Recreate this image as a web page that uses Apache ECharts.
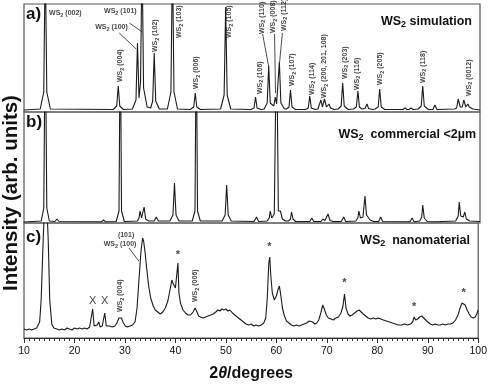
<!DOCTYPE html>
<html><head><meta charset="utf-8">
<script src="https://cdn.jsdelivr.net/npm/echarts@6/dist/echarts.min.js"></script>
<style>html,body{margin:0;padding:0;background:#fff}#c{width:490px;height:384px}</style>
</head><body><div id="c"></div>
<script>
// ---- data (2theta in degrees, intensity in arbitrary units per panel) ----
const xTicks = [10, 20, 30, 40, 50, 60, 70, 80, 90, 100];

const simPattern = [
[10,2],[13.2,3],[13.9,20],[14.2,160],[14.5,20],[15.2,3],
[27.6,2.5],[28.3,6],[28.6,26],[28.9,6],[29.6,2.5],
[31.4,3],[32.1,12],[32.4,69],[32.7,14],[33.0,30],[33.3,160],[33.6,24],[34.3,5],
[35.0,4],[35.4,11],[35.7,59],[36.0,11],[36.7,3],
[38.3,3],[39.0,20],[39.3,160],[39.6,20],[40.3,3],
[42.8,2.5],[43.5,5],[43.8,19],[44.1,5],[44.8,2.5],
[48.8,3],[49.5,17],[49.8,105],[50.1,17],[50.8,3],
[54.8,2.5],[55.4,4],[55.7,15],[56.0,4],[56.8,2.5],
[57.4,3],[58.0,9],[58.3,46],[58.6,9],[59.3,6],[59.6,15],[59.85,8],[60.1,10],[60.4,50],[60.7,9],[61.4,3],
[61.8,3],[62.3,5],[62.6,22],[62.9,5],[63.6,2.5],
[65.6,2.5],[66.1,4],[66.4,16],[66.7,4],[67.5,2.5],
[68.0,3],[68.3,4],[68.6,12],[68.9,5],[69.3,13],[69.7,5],[70.2,8],[70.5,4],[71.2,2.5],
[72.0,3],[72.6,6],[72.9,29],[73.2,6],[74.0,2.5],
[75.0,3],[75.6,5],[75.9,21],[76.2,5],[76.7,3],[77.0,5],[77.3,3.5],[77.7,8],[78.0,3.5],[78.8,2.5],
[79.3,3],[79.9,5],[80.2,23],[80.5,5],[81.2,2.5],
[84.8,2.5],[85.2,4],[85.6,2.5],[86.0,2.5],[86.4,4],[86.8,2.5],
[87.8,3],[88.4,6],[88.7,26],[89.0,6],[89.8,2.5],
[90.7,2.5],[91.1,7],[91.5,2.5],
[95.0,3],[95.4,4],[95.7,13],[96.1,5],[96.5,5],[96.8,12],[97.2,5],[97.6,8],[97.9,5],[98.2,7],[98.6,3],[100,2]
];

const comPattern = [
[10,1],[13.4,2],[13.9,15],[14.2,200],[14.5,15],[15.0,2],[16.1,1.5],[16.5,4],[16.9,1.5],
[25.3,1.2],[25.7,3],[26.1,1.2],
[28.2,1.5],[28.75,12],[29.0,200],[29.25,12],[29.8,1.5],
[32.4,2],[32.7,5],[32.9,12],[33.2,5],[33.5,7],[33.7,16],[34.0,4],[34.6,2],
[35.7,2],[36.1,6],[36.5,2],
[38.8,2],[39.4,8],[39.7,40],[40.0,8],[40.6,2],
[43.2,2],[43.75,12],[44.0,200],[44.25,12],[44.8,2],
[49.1,2],[49.7,8],[50.0,38],[50.3,8],[50.9,2],
[55.4,1.5],[55.9,6],[56.3,1.5],
[58.0,2],[58.4,5],[58.6,12],[58.9,5],[59.4,9],[59.85,200],[60.2,12],[60.6,12],[61.0,4],[61.6,2],
[62.2,2],[62.6,4],[62.8,11],[63.1,4],[63.6,1.5],
[66.4,1.5],[66.8,5],[67.2,1.5],
[68.6,1.5],[69.0,4],[69.4,2.5],[70.0,9],[70.4,2.5],[71.0,1.5],
[72.6,1.5],[73.1,6],[73.5,1.5],
[75.5,2],[75.9,5],[76.1,12],[76.4,5],[76.9,6],[77.3,27],[77.6,8],[77.9,10],[78.3,3],[79.0,1.5],
[80.0,1.5],[80.4,6],[80.8,1.5],
[86.2,1.2],[86.6,5],[87.0,1.2],
[88.1,2],[88.5,6],[88.7,18],[89.0,5],[89.6,1.5],
[90.8,1.2],[91.1,3],[91.4,1.2],
[95.2,2],[95.7,7],[95.9,21],[96.2,7],[96.7,6],[97.0,11],[97.3,4],[98.0,2],[100,1.5]
];

const nanoPattern = [
[10,9],[10.5,8],[11,9],[11.5,8],[12,9],[12.5,10],[12.8,11],[13.1,16],[13.4,38],[13.8,98],[14.3,160],[14.8,98],[15.1,38],[15.5,14],[15.9,10],
[16.5,9],[17,8],[17.5,9],[18,8],[18.5,10],[19,9],[19.5,8],[20,10],[20.5,9],[21,10],[21.5,9],[22,10],[22.5,9],[23,11],
[23.3,13],[23.6,29],[23.9,12],[24.2,11],[24.5,13],[24.8,16],[25.1,11],[25.5,12],[25.8,11],[26.0,25],[26.3,12],[26.6,10],
[27,12],[27.5,11],[28,12],[28.4,15],[28.8,20],[29.0,22],[29.3,20],[29.7,15],[30.1,12],[30.5,11],[31,12],[31.5,13],[32,16],
[32.4,30],[32.8,60],[33.2,88],[33.5,100],[33.7,97],[34.0,85],[34.3,70],[34.7,52],[35.1,40],[35.6,32],[36.0,28],[36.5,26],
[37.0,24],[37.5,26],[38.0,30],[38.5,37],[39.0,50],[39.3,58],[39.5,55],[39.7,57],[40.0,50],[40.3,48],[40.5,75],[40.7,45],
[41.0,35],[41.5,28],[42.0,25],[42.5,23],[43.0,23],[43.5,26],[43.9,30],[44.2,27],[44.6,22],[45.0,21],[45.5,20],[46.0,21],
[46.5,22],[47.0,23],[47.5,24],[48.0,26],[48.4,28],[48.8,27],[49.2,29],[49.6,28],[50.0,29],[50.4,27],[50.8,28],[51.3,25],
[52,22],[52.5,20],[53,18],[53.5,16],[54,14],[54.5,13],[55,14],[55.5,12],[56,13],[56.5,12],[57,13],[57.5,15],[57.9,20],
[58.2,40],[58.5,75],[58.7,81],[58.9,62],[59.2,45],[59.6,38],[60.0,42],[60.3,48],[60.6,52],[60.9,42],[61.2,30],[61.6,22],
[62.0,17],[62.5,15],[63,13],[63.5,12],[64,13],[64.5,12],[65,13],[65.5,14],[66,15],[66.5,17],[66.8,18],[67.2,16],[67.6,14],
[68,15],[68.4,18],[68.8,25],[69.2,33],[69.5,29],[69.9,23],[70.3,20],[70.8,19],[71.3,18],[71.8,20],[72.3,21],[72.8,25],
[73.2,32],[73.5,44],[73.8,30],[74.2,24],[74.6,22],[75.0,23],[75.5,25],[76.0,27],[76.4,28],[76.8,26],[77.2,24],[77.7,22],
[78.2,20],[78.7,19],[79.2,20],[79.7,19],[80.2,20],[80.7,19],[81.2,18],[81.8,17],[82.4,16],[83,15],[83.6,14],[84.2,13],
[84.8,13],[85.4,14],[86,13],[86.6,14],[87.0,16],[87.3,21],[87.6,18],[88.0,19],[88.4,21],[88.8,22],[89.2,20],[89.6,18],
[90.0,16],[90.5,14],[91,13],[91.5,14],[92,13],[92.5,13],[93,14],[93.5,13],[94,14],[94.5,14],[95,15],[95.5,18],[96,23],
[96.4,30],[96.8,35],[97.1,36],[97.4,33],[97.8,28],[98.2,24],[98.6,21],[99,20],[99.4,21],[99.7,24],[100,28]
];

// peak labels: [2theta, intensity, text]
const simVertLabels = [
[29.0,30,'WS₂ (004)'],[35.9,60,'WS₂ (102)'],[40.66,74,'WS₂ (103)'],[44.0,23,'WS₂ (006)'],
[50.55,74,'WS₂ (105)'],[56.5,18,'WS₂ (106)'],[56.9,78,'WS₂ (110)'],[59.2,79,'WS₂ (008)'],
[61.3,81,'WS₂ (112)'],[63.0,26,'WS₂ (107)'],[66.8,17,'WS₂ (114)'],[69.3,14,'WS₂ (200, 201, 108)'],
[73.3,33,'WS₂ (203)'],[75.7,22,'WS₂ (116)'],[80.3,27,'WS₂ (205)'],[88.7,29,'WS₂ (118)'],[97.8,16,'WS₂ (0012)']
];
const simHorizLabels = [[14.95,99,'WS₂ (002)'],[25.8,101,'WS₂ (101)'],[24.05,85,'WS₂ (100)']];
const simLeaders = [
[[30.8,89],[33.35,80]],[[28.8,79],[32.15,63]],
[[57.1,78],[58.3,45]],[[59.45,78],[59.65,19]],[[61.0,79],[60.45,50]]
];
const nanoVertLabels = [[29.1,26,'WS₂ (004)'],[43.9,36,'WS₂ (006)']];
const nanoHorizLabels = [[28.6,103,'(101)'],[25.8,94,'WS₂ (100)']];
const nanoLeaders = [[[30.8,90],[32.75,77]]];
const nanoStars = [[40.5,83,'*'],[58.6,91,'*'],[73.5,55,'*'],[87.3,31,'*'],[97.1,45,'*']];
const nanoCrosses = [[23.6,37,'X'],[26.0,37,'X']];

const panelTitles = ['WS₂ simulation', 'WS₂  commercial <2µm', 'WS₂  nanomaterial'];
const panelLetters = ['a)', 'b)', 'c)'];

// ---- chart ----
const FONT = 'Liberation Sans, Arial, sans-serif';
const toRich = t => '{a|' + t.replace('₂', '}{s|2}{a|') + '}';
const richSmall = {
  a:{fontFamily:FONT, fontSize:7, fontWeight:'bold', color:'#111'},
  s:{fontFamily:FONT, fontSize:5.5, fontWeight:'bold', color:'#111', padding:[4,0,0,0]}
};
const richBig = {
  a:{fontFamily:FONT, fontSize:12.5, fontWeight:'bold', color:'#111'},
  s:{fontFamily:FONT, fontSize:9, fontWeight:'bold', color:'#111', padding:[6,0,0,0]}
};

const grids = [
  {left:24, right:10, top:4, height:108},
  {left:24, right:10, top:112, height:111},
  {left:24, right:10, top:223, height:115}
].map(g => Object.assign(g, {show:true, borderColor:'#555', borderWidth:1.2, containLabel:false}));

const yMax = [108, 111, 115];

const xAxes = [0,1,2].map(i => ({
  type:'value', gridIndex:i, min:10, max:100, interval:10,
  axisLine:{show:i===2, lineStyle:{color:'#333', width:1}},
  axisTick:{show:i===2, length:5, lineStyle:{color:'#333'}},
  minorTick:{show:i===2, splitNumber:10, length:3, lineStyle:{color:'#333'}},
  axisLabel:{show:i===2, fontFamily:FONT, fontSize:10.5, color:'#111', margin:8,
    formatter: v => xTicks.includes(v) ? String(v) : ''},
  splitLine:{show:false},
  name: i===2 ? '{a|2}{b|θ}{a|/degrees}' : '',
  nameLocation:'middle', nameGap:28,
  nameTextStyle:{rich:{
    a:{fontFamily:FONT, fontSize:16, fontWeight:'bold', color:'#111'},
    b:{fontFamily:FONT, fontSize:16, fontWeight:'bold', fontStyle:'italic', color:'#111'}
  }}
}));
const yAxes = [0,1,2].map(i => ({type:'value', gridIndex:i, min:0, max:yMax[i], show:false}));

const lineSeries = (data, i, leaders) => ({
  type:'line', xAxisIndex:i, yAxisIndex:i, data, showSymbol:false, symbol:'none',
  lineStyle:{color:'#1a1a1a', width:1.1}, clip:true, animation:false,
  markLine: leaders ? {symbol:'none', silent:true, animation:false,
    lineStyle:{color:'#222', width:0.8, type:'solid'}, label:{show:false},
    data: leaders.map(l => [{coord:l[0]},{coord:l[1]}])} : undefined
});

const labelSeries = (data, i, rotate, size, align, bold) => ({
  type:'scatter', xAxisIndex:i, yAxisIndex:i, data, symbolSize:1,
  itemStyle:{color:'rgba(0,0,0,0)'}, animation:false, silent:true,
  label:{show:true, position:'inside', rotate, formatter:p => toRich(p.value[2]),
    align, verticalAlign:'middle', fontFamily:FONT, fontSize:size,
    fontWeight: bold ? 'bold' : 'normal', color:'#111',
    rich: size === 7 ? richSmall : {a:{fontFamily:FONT, fontSize:size, fontWeight: bold ? 'bold':'normal', color:'#111'}}},
  labelLayout:{hideOverlap:false}
});

const graphics = [];
const titleY = [22, 135, 241];
const titleRight = [472, 476, 470];
const letterY = [14, 122, 237];
for (let i=0;i<3;i++){
  graphics.push({type:'text', x:titleRight[i], y:titleY[i], style:{text:toRich(panelTitles[i]), rich:richBig,
    align:'right', verticalAlign:'middle', fill:'#111'}});
  graphics.push({type:'text', x:26, y:letterY[i], style:{text:panelLetters[i],
    align:'left', verticalAlign:'middle', font:'bold 17px '+FONT, fill:'#111'}});
}
graphics.push({type:'text', x:11, y:193, rotation:Math.PI/2, style:{text:'Intensity (arb. units)',
  align:'center', verticalAlign:'middle', font:'bold 20.5px '+FONT, fill:'#111'}});

const chart = echarts.init(document.getElementById('c'), null, {renderer:'canvas'});
chart.setOption({
  animation:false,
  backgroundColor:'#fff',
  grid: grids, xAxis: xAxes, yAxis: yAxes,
  graphic: graphics,
  series:[
    lineSeries(simPattern, 0, simLeaders),
    lineSeries(comPattern, 1),
    lineSeries(nanoPattern, 2, nanoLeaders),
    labelSeries(simVertLabels, 0, 90, 7, 'left', true),
    labelSeries(simHorizLabels, 0, 0, 7, 'left', true),
    labelSeries(nanoVertLabels, 2, 90, 7, 'left', true),
    labelSeries(nanoHorizLabels, 2, 0, 7, 'left', true),
    labelSeries(nanoStars, 2, 0, 11, 'center', true),
    labelSeries(nanoCrosses, 2, 0, 11, 'center', false)
  ]
});
</script></body></html>
